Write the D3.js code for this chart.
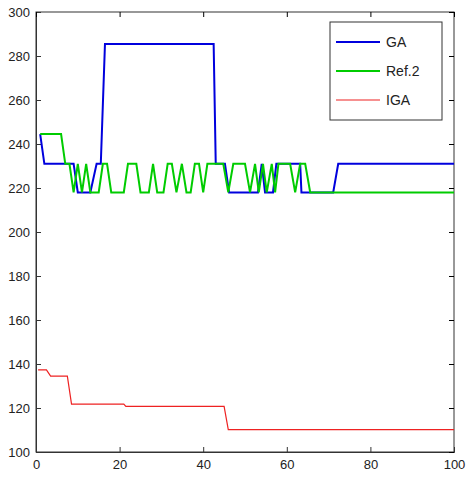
<!DOCTYPE html><html><head><script src="https://cdn.jsdelivr.net/npm/d3@7"></script>
<style>body{margin:0;background:#fff}</style></head><body><svg id="c" width="474" height="479"></svg>
<script>
const xTicks=[0,20,40,60,80,100];
const yTicks=[100,120,140,160,180,200,220,240,260,280,300];
const gaX=[1,2,8,9,10,13,14.5,15.5,16.5,42.5,43,45.2,46.2,53.1,54,54.8,55.5,56.7,57.5,61.5,63.2,63.5,71.1,72.3,100];
const gaY=[244.5,231,231,231,218,218,231,231,285.5,285.5,231,231,218,218,231,218,218,218,231,231,231,218,218,231,231];
const refX=[1,6,7,8,9,10,11,12,13,15,16,17,18,21,22,24,25,27,28,29,30.5,31.5,32.5,33.6,34.9,36,37,38,39,40,41,44.8,46,47.2,50,51.2,52.4,53.3,54.3,55.2,56.4,57.2,58,60.8,62,63.2,64.4,65.6,100];
const refY=[244.5,244.5,231,231,218,231,218,231,218,218,231,231,218,218,231,231,218,218,231,218,218,231,231,218,231,218,218,231,231,218,231,231,218,231,231,218,231,218,231,218,231,218,231,231,218,231,231,218,218];
const igaX=[0.5,2.5,3.5,7.5,8.5,21,21.5,45,46,100];
const igaY=[137.3,137.3,134.5,134.5,121.8,121.8,120.7,120.7,110.2,110.2];
const svg=d3.select("#c"),L=36,R=454,T=12,B=452;
const x=d3.scaleLinear().domain([0,100]).range([L,R]);
const y=d3.scaleLinear().domain([100,300]).range([B,T]);
svg.append("rect").attr("x",L).attr("y",T).attr("width",R-L).attr("height",B-T).attr("fill","none").attr("stroke","#333");
const ax=svg.append("g").attr("transform",`translate(0,${B})`).call(d3.axisBottom(x).tickValues(xTicks).tickSize(-5).tickPadding(8));
const ay=svg.append("g").attr("transform",`translate(${L},0)`).call(d3.axisLeft(y).tickValues(yTicks).tickSize(-5).tickPadding(6));
[ax,ay].forEach(a=>{a.select(".domain").attr("stroke","#333");a.selectAll("text").attr("font-family","Arial, Liberation Sans").attr("font-size",13).attr("fill","#222");a.selectAll("line").attr("stroke","#333");});
svg.append("g").attr("transform",`translate(0,${T})`).call(d3.axisTop(x).tickValues(xTicks).tickSize(-5).tickFormat("")).select(".domain").remove();
svg.append("g").attr("transform",`translate(${R},0)`).call(d3.axisRight(y).tickValues(yTicks).tickSize(-5).tickFormat("")).select(".domain").remove();
const line=(xs,ys)=>d3.line().x((d,i)=>x(xs[i])).y((d,i)=>y(ys[i]))(xs);
svg.append("path").attr("d",line(gaX,gaY)).attr("fill","none").attr("stroke","#0000dd").attr("stroke-width",2);
svg.append("path").attr("d",line(refX,refY)).attr("fill","none").attr("stroke","#00cc00").attr("stroke-width",2);
svg.append("path").attr("d",line(igaX,igaY)).attr("fill","none").attr("stroke","#ee2222").attr("stroke-width",1.2);
const lg=svg.append("g").attr("transform","translate(330,22)");
lg.append("rect").attr("width",112).attr("height",98).attr("fill","#fff").attr("stroke","#333");
[["GA","#0000dd",2],["Ref.2","#00cc00",2],["IGA","#ee2222",1.2]].forEach((d,i)=>{
 const yy=20+i*29;
 lg.append("line").attr("x1",6).attr("x2",50).attr("y1",yy).attr("y2",yy).attr("stroke",d[1]).attr("stroke-width",d[2]);
 lg.append("text").attr("x",56).attr("y",yy+5).text(d[0]).attr("font-family","Arial, Liberation Sans").attr("font-size",14).attr("fill","#222");
});
</script></body></html>
